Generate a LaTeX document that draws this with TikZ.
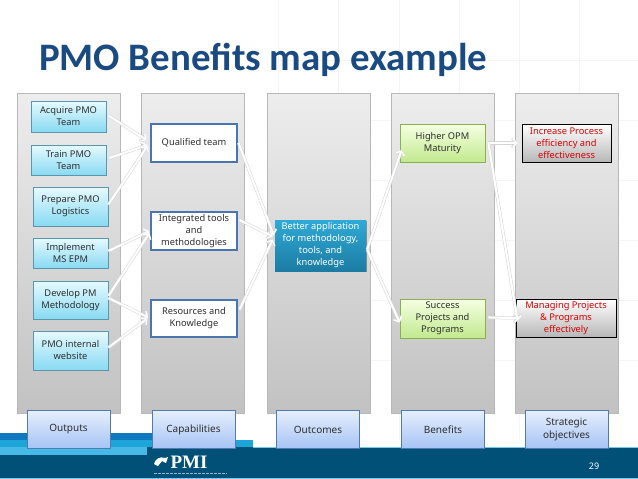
\documentclass[tikz,border=0pt]{standalone}
\usepackage{fontspec}
\setmainfont{Noto Sans}
\newfontfamily\titlefont{Carlito}
\newfontfamily\logofont{Liberation Serif}
\usetikzlibrary{calc,arrows.meta,shadows}
\definecolor{pmodark}{HTML}{005078}
\definecolor{pmomid}{HTML}{0F78BE}
\definecolor{pmocyan}{HTML}{1EA5D7}
\definecolor{pmolight}{HTML}{46B9E6}
\definecolor{titleblue}{HTML}{1A4A82}
\definecolor{outtop}{HTML}{E6FAFF}
\definecolor{outbot}{HTML}{88DAF2}
\definecolor{outline}{HTML}{5A97AC}
\definecolor{captop}{HTML}{4A75AE}
\definecolor{lbltop}{HTML}{E6EEFC}
\definecolor{lblbot}{HTML}{A6C4F5}
\definecolor{lblline}{HTML}{4F7BAE}
\definecolor{bentop}{HTML}{F5FFE3}
\definecolor{benbot}{HTML}{C2E98E}
\definecolor{benline}{HTML}{8CB050}
\definecolor{oc1}{HTML}{2FAAD6}
\definecolor{oc2}{HTML}{1C7CA3}
\tikzset{
  x=1pt,y=-1pt,
  boxtext/.style={align=center,font=\fontsize{9.3}{12}\selectfont,inner sep=0pt,text=black!82},
  column/.style={draw=black!28,line width=0.7pt,top color=black!7,bottom color=black!24,inner sep=0pt,minimum width=103pt,minimum height=320pt},
  softshadow/.style={drop shadow={shadow xshift=0.6pt,shadow yshift=-1pt,opacity=0.35,fill=black}},
  outputbox/.style={boxtext,draw=outline,line width=0.8pt,top color=outtop,bottom color=outbot,softshadow},
  capbox/.style={boxtext,draw=captop,line width=1.1pt,fill=white},
  outcomebox/.style={boxtext,text=white,top color=oc1,bottom color=oc2,softshadow},
  benefitbox/.style={boxtext,draw=benline,line width=0.8pt,top color=bentop,bottom color=benbot,softshadow},
  goalbox/.style={boxtext,text=red!85!black,draw=black,line width=0.9pt,top color=white,bottom color=black!28},
  labelbox/.style={boxtext,font=\fontsize{10}{12.5}\selectfont,draw=lblline,line width=0.8pt,top color=lbltop,bottom color=lblbot,minimum width=83pt,minimum height=37.5pt,softshadow},
  flow/.style={draw=white,line width=2.1pt,-{Straight Barb[length=4pt,width=9pt,line width=1.4pt]},
    preaction={draw=black!17,line width=3.1pt,-{Straight Barb[length=4pt,width=9pt,line width=2.3pt]}}},
}
\begin{document}
\begin{tikzpicture}
\useasboundingbox (0,0) rectangle (638,479);
\fill[white] (0,0) rectangle (638,479);
% pale background grid
\foreach \gy in {60,120,180,240,300,360}
  \draw[black!4,line width=0.8pt] (278,\gy) -- (638,\gy);
\foreach \gx in {278,338,399,459,519,579}
  \draw[black!4,line width=0.8pt] (\gx,0) -- (\gx,440);
% footer
\fill[pmomid] (0,432.5) rectangle (152,440);
\fill[pmocyan] (0,440) rectangle (253,447);
\fill[pmolight] (0,447) rectangle (147,455);
\fill[pmodark] (147,447) rectangle (638,477.5);
\fill[pmodark] (0,455) rectangle (147,477.5);
\draw[pmocyan!60!white,line width=0.7pt] (253,447) -- (638,447);
\draw[pmocyan!60!white,line width=0.7pt] (0,478) -- (638,478);
% title
\node[anchor=west,inner sep=0pt,font=\titlefont\bfseries\fontsize{38.9}{39}\selectfont,text=titleblue] (title) at (39,60) {PMO Benefits map example};
% columns
\node[column] (c1) at (68.5,253) {};
\node[column] (c2) at (193,253) {};
\node[column] (c3) at (318.5,253) {};
\node[column] (c4) at (442.5,253) {};
\node[column] (c5) at (566.5,253) {};
% outputs
\node[outputbox,minimum width=75pt,minimum height=31pt] (a1) at (68.5,116.5) {Acquire PMO\\Team};
\node[outputbox,minimum width=75pt,minimum height=30pt] (a2) at (68.5,160) {Train PMO\\Team};
\node[outputbox,minimum width=75pt,minimum height=39pt] (a3) at (70.5,206.5) {Prepare PMO\\Logistics};
\node[outputbox,minimum width=75pt,minimum height=30pt] (a4) at (70.5,253) {Implement\\MS EPM};
\node[outputbox,minimum width=75pt,minimum height=38pt] (a5) at (70.5,300) {Develop PM\\Methodology};
\node[outputbox,minimum width=75pt,minimum height=39pt] (a6) at (70.5,350.5) {PMO internal\\website};
% capabilities
\node[capbox,minimum width=86pt,minimum height=38pt] (b1) at (194,143) {Qualified team};
\node[capbox,minimum width=86pt,minimum height=38pt] (b2) at (194,231) {Integrated tools\\and\\methodologies};
\node[capbox,minimum width=86pt,minimum height=37pt] (b3) at (194,318.5) {Resources and\\Knowledge};
% outcome
\node[outcomebox,minimum width=91pt,minimum height=51pt] (o1) at (320.5,245.5) {Better application\\for methodology,\\tools, and\\knowledge};
% benefits
\node[benefitbox,minimum width=85pt,minimum height=38pt] (d1) at (442.5,143) {Higher OPM\\Maturity};
\node[benefitbox,minimum width=85pt,minimum height=39pt] (d2) at (442.5,318.5) {Success\\Projects and\\Programs};
% strategic
\node[goalbox,minimum width=89pt,minimum height=38pt] (e1) at (566.5,143) {Increase Process\\efficiency and\\effectiveness};
\node[goalbox,minimum width=100pt,minimum height=38pt] (e2) at (566,318) {Managing Projects\\\& Programs\\effectively};
% connectors
\draw[flow] ($(a1.east)+(2,-1)$) -- ($(b1.west)+(-4,-3)$);
\draw[flow] ($(a2.east)+(3,-2)$) -- ($(b1.west)+(-3,2)$);
\draw[flow] ($(a3.east)+(0,-2)$) -- ($(b1.west)+(-3,3)$);
\draw[flow] ($(a4.east)+(0,-2)$) -- ($(b2.west)+(-1,0)$);
\draw[flow] ($(a5.east)+(0,-4)$) -- ($(b2.west)+(-1,2)$);
\draw[flow] ($(a5.east)+(0,-2)$) -- ($(b3.west)+(-2,-1)$);
\draw[flow] ($(a6.east)+(0,-3)$) -- ($(b3.west)+(-3,0)$);
\draw[flow] ($(b1.east)+(1,0)$) -- ($(o1.west)+(-1,-10)$);
\draw[flow] ($(b2.east)+(2,-11)$) -- ($(o1.west)+(-2,-9)$);
\draw[flow] ($(b3.east)+(2,-9)$) -- ($(o1.west)+(-2,-6)$);
\draw[flow] ($(o1.east)+(1,4)$) -- ($(d1.west)+(2,7)$);
\draw[flow] ($(o1.east)+(1,4)$) -- ($(d2.west)+(0,4)$);
\draw[flow] ($(d1.east)+(3,0)$) -- ($(e1.west)+(-4,0)$);
\draw[flow] ($(d1.east)+(3,0)$) -- ($(e2.west)+(2,3)$);
\draw[flow] ($(d2.east)+(3,-1)$) -- ($(e2.west)+(4,0)$);
% label boxes
\node[labelbox] (l1) at (68.5,429.5) {Outputs};
\node[labelbox] (l2) at (193.5,429.5) {Capabilities};
\node[labelbox] (l3) at (318,429.5) {Outcomes};
\node[labelbox] (l4) at (443,429.5) {Benefits};
\node[labelbox] (l5) at (566.5,429.5) {Strategic\\objectives};
% page number and logo
\node[inner sep=0pt,text=white,font=\fontsize{9}{10}\selectfont] (page) at (594,466) {29};
\fill[white] (154,464) .. controls (155,459) and (160,456) .. (165,458) -- (168,457) -- (166,463) -- (162,461) -- (158,466) -- cycle;
\node[inner sep=0pt,text=white,font=\logofont\bfseries\fontsize{19}{19}\selectfont] (logo) at (189,462) {PMI};
\draw[white!60!pmodark,line width=1.5pt,dash pattern=on 3pt off 1pt] (154,473.5) -- (227,473.5);
\end{tikzpicture}
\end{document}
